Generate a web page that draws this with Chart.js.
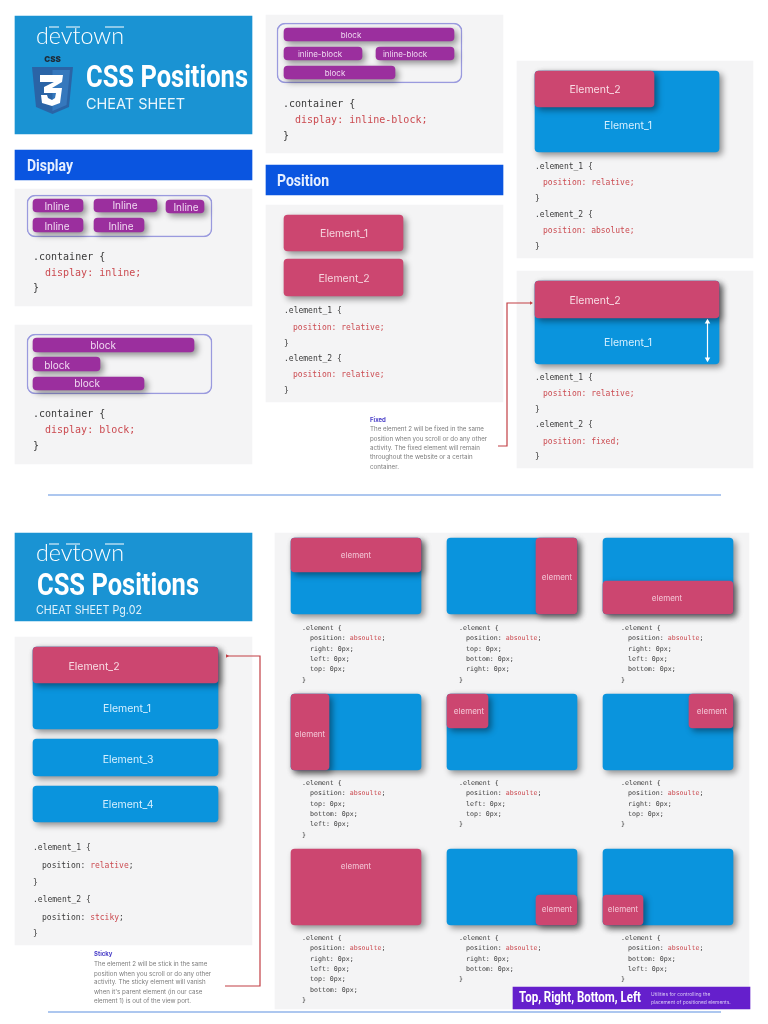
<!DOCTYPE html>
<html><head><meta charset="utf-8">
<style>html,body{margin:0;padding:0;background:#fff}canvas{display:block}</style>
<script src="https://cdn.jsdelivr.net/npm/chart.js@4/dist/chart.umd.min.js"></script>
</head><body><canvas id="c" width="768" height="1024" style="width:768px;height:1024px"></canvas>
<script>
// ---------- boxes as [x0, y0, x1, y1] ----------
const headerBoxes = [[15,16,252,134],[15,533,252,621]];
const sectionBars = [[15,150,252,180],[266,165,503,195]];
const greyPanels = [[15,189,252,306],[15,325,252,464],[266,15,503,153],[266,205,503,402],
  [517,61,753,258],[517,271,753,468],[15,637,252,945],[275,533,749,1009]];
const purplePills = [[33,199,83,212],[94,199,157,212],[166,200,204,213],[33,218,83,232],[94,218,144,232],
  [33,338,194,352],[33,357,100,371],[33,377,144,390],
  [284,28,454,41],[284,47,362,60],[376,47,454,60],[284,66,395,79]];
const outlineBoxes = [[27,195,212,237],[27,334,212,394],[277,23,462,83]];
const blueBoxes = [[535,71,719,152],[535,281,719,364],[33,647,218,729],[33,739,218,776],[33,786,218,822],
  [447,538,577,614],[603,538,733,614],[291,538,421,614],
  [291,694,421,770],[447,694,577,770],[603,694,733,770],
  [447,849,577,925],[603,849,733,925]];
const pinkBoxes = [[284,215,403,251],[284,259,403,296],[535,71,654,107],[535,281,719,318],[33,647,218,683],
  [291,538,421,572],[536,538,577,614],[603,581,733,614],
  [291,694,329,770],[447,694,488,728],[689,694,733,728],
  [291,849,421,925],[536,895,577,925],[603,895,643,925]];
const calloutBar = [[513,987,750,1009]];
// ---------- rules and connectors ----------
const ruleLines = [[[48,495],[721,495]],[[48,1012],[721,1012]]];
const connectorLines = [[[498,446],[507,446],[507,303],[531,303]],[[225,986],[260,986],[260,656],[227,656]]];
const heightArrow = [[707.5,322],[707.5,359]];
// ---------- words ----------
const pillLabels = [["Inline",57,205.5,10],["Inline",125,205,10],["Inline",186,206.5,10],["Inline",57,225.5,10],["Inline",121,225.5,10],
  ["block",103,345,10],["block",57,364.5,10],["block",87,382.5,10],
  ["block",351,35,8],["inline-block",320,53.5,8],["inline-block",405,53.5,8],["block",335,72.5,8]];
const elementLabels = [["Element_1",344,233,"#f6d5de"],["Element_2",344,278,"#f6d5de"],
  ["Element_2",595,89,"#f9dde5"],["Element_1",628,125,"#d6f0ff"],["Element_2",595,300,"#f9dde5"],["Element_1",628,342,"#d6f0ff"],
  ["Element_2",94,666,"#f9dde5"],["Element_1",127,708,"#d6f0ff"],["Element_3",128,758.5,"#d6f0ff"],["Element_4",128,804,"#d6f0ff"]];
const gridLabels = [[356,555],[557,577],[667,598],[310,734],[469,711],[712,711],[356,866],[557,909],[623,909]];
const displayCode = [[33,256,".container {",45,272,"display: inline;",33,287],
  [33,413,".container {",45,429,"display: block;",33,445],
  [283,103,".container {",295,119,"display: inline-block;",283,135]];
const positionCode = [[284,293,310,326.5,342.5,358,374,390,"position: relative;","position: relative;"],
  [535,543,166,182,198,213.5,230,246,"position: relative;","position: absolute;"],
  [535,543,377,392.5,409,424,441,456,"position: relative;","position: fixed;"]];
const stickyCode = [33,42,847,864.5,882,899,917,933];
const stickyValues = ["relative","stciky"];
const gridColumns = [[302,310],[459,466],[621,628]];
const gridRows = [627,782,937];
const gridRules = [["right","left","top"],["top","bottom","right"],["right","left","bottom"],
  ["top","bottom","left"],["left","top"],["right","top"],
  ["right","left","top","bottom"],["right","bottom"],["bottom","left"]];
const fixedNote = ["The element 2 will be fixed in the same","position when you scroll or do any other","activity. The fixed element will remain","throughout the website or a certain","container."];
const fixedNoteY = [428.5,438.5,447.5,456.5,467];
const stickyNote = ["The element 2 will be stick in the same","position when you scroll or do any other","activity. The sticky element will vanish","when it's parent element (in our case","element 1) is out of the view port."];
const stickyNoteY = [964,973.5,982,992,1001];

const datasets = [];
function boxes(list, color, radius, shadow, extra){
  list.forEach(b=>datasets.push(Object.assign({
    type:'bar', data:[{x:(b[0]+b[2])/2, y:[b[1],b[3]]}], barThickness:b[2]-b[0], grouped:false,
    backgroundColor:color, borderRadius:radius, borderSkipped:false, shadow:shadow, clip:false
  },extra||{})));
}
function lines(list,color,width,extra){
  list.forEach(l=>datasets.push(Object.assign({
    type:'line', data:l.map(p=>({x:p[0],y:p[1]})), borderColor:color, borderWidth:width,
    pointRadius:0, tension:0, fill:false, clip:false
  },extra?extra(l):{})));
}
boxes(headerBoxes,'#1a93d3',0,false);
boxes(sectionBars,'#0a55e0',0,false);
boxes(greyPanels,'#f4f4f5',0,false);
boxes(outlineBoxes,'rgba(0,0,0,0)',8,false,{borderColor:'#9a9ade',borderWidth:0.8});
boxes(purplePills,'#9b2f9e',4,true);
boxes(blueBoxes,'#0a94dd',4,true);
boxes(pinkBoxes,'#cc4670',4,true);
boxes(calloutBar,'#651fcc',0,false);
lines(ruleLines,'#5c8fe0',1.2);
lines(connectorLines,'#c23f45',1.2,l=>({pointStyle:'triangle',pointRadius:l.map((p,i)=>i==l.length-1?2:0),
  pointRotation:l.map((p,i)=>l[l.length-1][0]>l[0][0]?90:-90),pointBackgroundColor:'#c23f45',pointBorderWidth:0}));
lines([heightArrow],'#ffffff',1.2,()=>({pointStyle:'triangle',pointRadius:3.2,pointRotation:[0,180],pointBackgroundColor:'#fff',pointBorderWidth:0}));
datasets.forEach((d,i)=>d.order=-i);

const SANS='Inter, "Open Sans", sans-serif', MONO='"DejaVu Sans Mono", monospace', HEAD='Roboto, "Open Sans", sans-serif';
const DARK='#3a3a3a', RED='#cb4a50', GREY='#7d7d7d';

const pagePlugin = {
  id:'page',
  beforeDatasetDraw(chart,args){
    const ctx=chart.ctx; ctx.save();
    if(chart.data.datasets[args.index].shadow){
      ctx.shadowColor='rgba(0,0,0,0.42)'; ctx.shadowBlur=6; ctx.shadowOffsetX=3; ctx.shadowOffsetY=3;
    }
  },
  afterDatasetDraw(chart){ chart.ctx.restore(); },
  afterDatasetsDraw(chart){
    const ctx=chart.ctx, X=v=>chart.scales.x.getPixelForValue(v), Y=v=>chart.scales.y.getPixelForValue(v);
    function text(t,x,y,font,color,align,maxW){
      ctx.font=font; ctx.fillStyle=color; ctx.textAlign=align||'left'; ctx.textBaseline='middle';
      if(maxW) ctx.fillText(t,X(x),Y(y+1),maxW); else ctx.fillText(t,X(x),Y(y+1));
      return ctx.measureText(t).width;
    }
    function logo(y){
      text('devtown',36,y,'300 24px Lato, sans-serif','#ffffff','left',88);
      ctx.strokeStyle='#fff'; ctx.lineWidth=1;
      [[49,59],[66,80],[105,124]].forEach(s=>{ctx.beginPath();ctx.moveTo(X(s[0]),Y(y-8));ctx.lineTo(X(s[1]),Y(y-8));ctx.stroke();});
    }
    logo(35); logo(552);
    text('CSS Positions',86,78,'700 32px '+HEAD,'#fff','left',162);
    text('CHEAT SHEET',86,104,'400 14.5px '+SANS,'#e8f5fc','left',99);
    text('CSS Positions',37,586,'700 32px '+HEAD,'#fff','left',162);
    text('CHEAT SHEET Pg.02',36,610,'400 11.5px '+SANS,'#dff1fb','left',106);
    // CSS3 badge
    const poly=(pts,c)=>{ctx.fillStyle=c;ctx.beginPath();pts.forEach((p,i)=>i?ctx.lineTo(X(p[0]),Y(p[1])):ctx.moveTo(X(p[0]),Y(p[1])));ctx.closePath();ctx.fill();};
    poly([[32,67],[73,67],[69,107],[52.5,114],[36,107]],'#2a64a6');
    poly([[52.5,70],[70,70],[66.5,105],[52.5,111]],'#3578bd');
    poly([[40,75],[63,75],[62,82],[52,88],[62,88],[60,103],[52,106],[42,103],[41,95],[47,95],[48,98],[52,100],[55,98],[56,93],[44,93],[44,87],[54,82],[40,82]],'#fff');
    text('CSS',52.5,59,'900 8px '+SANS,'#1f2b38','center',25);
    // headings
    text('Display',27,166,'700 17px '+HEAD,'#e6efff','left',46);
    text('Position',277,181,'700 17px '+HEAD,'#e6efff','left',52);
    // pills and element labels
    pillLabels.forEach(p=>text(p[0],p[1],p[2],'400 '+p[3]+'px '+SANS,'#f0d8f1','center'));
    elementLabels.forEach(p=>text(p[0],p[1],p[2],'400 10.5px '+SANS,p[3],'center'));
    gridLabels.forEach(p=>text('element',p[0],p[1],'400 8px '+SANS,'#f4c9d8','center'));
    // code
    const big='400 10px '+MONO, mid='400 8px '+MONO, small='400 6.6px '+MONO;
    displayCode.forEach(c=>{
      text(c[2],c[0],c[1],big,DARK); text(c[5],c[3],c[4],big,RED); text('}',c[6],c[7],big,DARK);
    });
    positionCode.forEach(c=>{
      text('.element_1 {',c[0],c[2],mid,DARK); text(c[8],c[1],c[3],mid,RED); text('}',c[0],c[4],mid,DARK);
      text('.element_2 {',c[0],c[5],mid,DARK); text(c[9],c[1],c[6],mid,RED); text('}',c[0],c[7],mid,DARK);
    });
    const s=stickyCode;
    [0,1].forEach(i=>{
      const off=i*3;
      text('.element_'+(i+1)+' {',s[0],s[2+off],mid,DARK);
      const w=text('position: ',s[1],s[3+off],mid,DARK);
      const w2=text(stickyValues[i],s[1]+w,s[3+off],mid,RED);
      text(';',s[1]+w+w2,s[3+off],mid,DARK);
      text('}',s[0],s[4+off],mid,DARK);
    });
    gridRules.forEach((rules,i)=>{
      const col=gridColumns[i%3], y0=gridRows[Math.floor(i/3)], step=10.4;
      text('.element {',col[0],y0,small,DARK);
      const w=text('position: ',col[1],y0+step,small,DARK);
      const w2=text('absoulte',col[1]+w,y0+step,small,RED);
      text(';',col[1]+w+w2,y0+step,small,DARK);
      rules.forEach((r,j)=>text(r+': 0px;',col[1],y0+step*(j+2),small,DARK));
      text('}',col[0],y0+step*(rules.length+2),small,DARK);
    });
    // notes
    text('Fixed',370,419,'700 6px '+SANS,'#4a3fc8');
    fixedNote.forEach((t,i)=>text(t,370,fixedNoteY[i]-0.5,'400 6.2px '+SANS,GREY,'left',122));
    text('Sticky',94,953,'700 6px '+SANS,'#4a3fc8');
    stickyNote.forEach((t,i)=>text(t,94,stickyNoteY[i]-0.5,'400 6.2px '+SANS,GREY,'left',122));
    // callout
    text('Top, Right, Bottom, Left',519,997.5,'700 15px '+HEAD,'#fff','left',122);
    text('Utilities for controlling the',651,993.5,'400 4.9px '+SANS,'#d9c9f5');
    text('placement of positioned elements.',651,1001.5,'400 4.9px '+SANS,'#d9c9f5');
  }
};

new Chart(document.getElementById('c'),{
  type:'bar',
  data:{datasets},
  options:{
    responsive:false, animation:false, events:[],
    layout:{padding:0,autoPadding:false},
    plugins:{legend:{display:false},tooltip:{enabled:false}},
    scales:{
      x:{type:'linear',min:0,max:768,offset:false,display:false},
      y:{type:'linear',min:0,max:1024,reverse:true,display:false}
    }
  },
  plugins:[pagePlugin]
});
</script></body></html>
